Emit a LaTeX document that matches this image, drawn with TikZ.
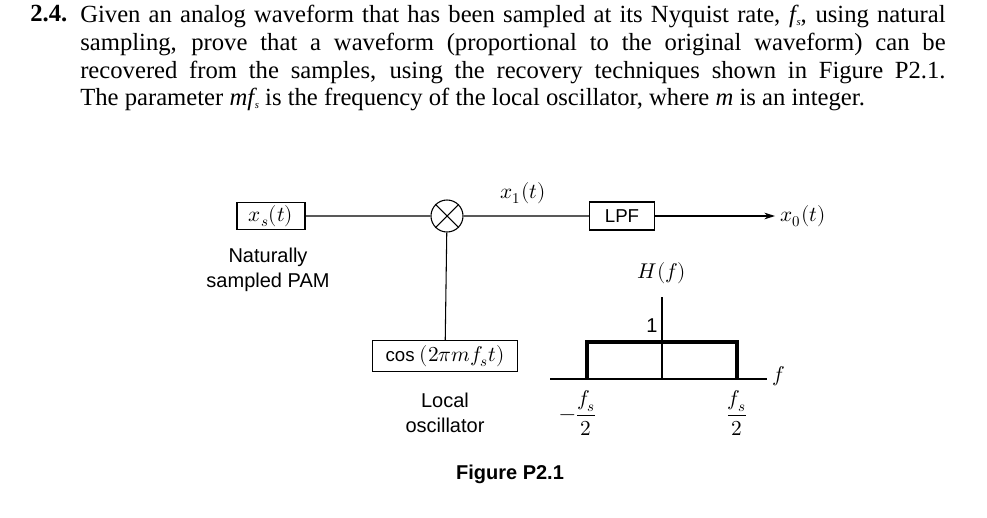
\documentclass[tikz,border=0pt]{standalone}
\usepackage{fontspec}
\setmainfont{Liberation Serif}
\newfontfamily\dsans{Liberation Sans}
\usepackage{unicode-math}
\setmathfont{Latin Modern Math}
\usetikzlibrary{arrows.meta}
\newcommand{\fsub}{\textit{f\kern0.5pt\raisebox{-2pt}{\footnotesize s}}}
\begin{document}
\begin{tikzpicture}[x=0.75pt,y=-0.75pt,
  box/.style={draw,line width=0.8pt,inner sep=0pt,font=\dsans\fontsize{14}{16}\selectfont},
  lbl/.style={font=\dsans\fontsize{15}{18}\selectfont,align=center},
  mth/.style={font=\fontsize{16}{18}\selectfont},
  ln/.style={line width=0.8pt},
  para/.style={anchor=north west,font=\fontsize{18.5}{20.8}\selectfont,inner sep=0pt,align=left}]
\useasboundingbox (0,0) rectangle (987,517);
\node[para] (num) at (30,5) {\textbf{2.4.}};
\node[para] (txt) at (80,5) {\makebox[649pt][s]{Given an analog waveform that has been sampled at its Nyquist rate, \fsub, using natural}\\
\makebox[649pt][s]{sampling, prove that a waveform (proportional to the original waveform) can be}\\
\makebox[649pt][s]{recovered from the samples, using the recovery techniques shown in Figure P2.1.}\\
The parameter \textit{m}\fsub{} is the frequency of the local oscillator, where \textit{m} is an integer.};
\node[box,mth,minimum width=51pt,minimum height=20pt] (xs) at (271,216) {$x_s(t)$};
\node[draw,circle,line width=0.8pt,minimum size=24pt,inner sep=0pt] (mul) at (447,216) {};
\draw[line width=0.8pt] (mul.45)--(mul.225) (mul.135)--(mul.315);
\node[box,minimum width=49pt,minimum height=21pt] (lpf) at (622,216) {LPF};
\coordinate (out) at (775,216);
\node[mth,anchor=west] (xo) at (776,216) {$x_0(t)$};
\node[mth] (x1) at (523,193) {$x_1(t)$};
\node[box,minimum width=109pt,minimum height=23pt] (cos) at (445,356) {cos {\fontsize{16}{18}\selectfont$(2\pi m f_s t)$}};
\draw[ln] (xs)--(mul) (mul)--(lpf) (mul)--(cos);
\draw[ln,-{Stealth[length=8pt,width=5pt]}] (lpf)--(out);
\node[lbl] (nat) at (268,270) {Naturally\\[1pt]sampled PAM};
\node[lbl] (lo) at (445,413) {Local\\[1pt]oscillator};
\node[font=\fontsize{16}{18}\selectfont] (H) at (662,273) {$H(f)$};
\coordinate (a0) at (550,379); \coordinate (a1) at (767,379);
\coordinate (v0) at (662,297); \coordinate (v1) at (662,379);
\draw[ln] (a0)--(a1) (v0)--(v1);
\node[mth,anchor=west] (f) at (768,376) {$f$};
\coordinate (r1) at (587,379); \coordinate (r2) at (587,342);
\coordinate (r3) at (737,342); \coordinate (r4) at (737,379);
\draw[line width=2.6pt] (r1)--(r2)--(r3)--(r4);
\node[lbl] (one) at (652,326) {1};
\node[mth] (mfs) at (578,413) {$-\dfrac{f_s}{2}$};
\node[mth] (fs) at (737,413) {$\dfrac{f_s}{2}$};
\node[font=\dsans\bfseries\fontsize{15}{17}\selectfont] (cap) at (510,474) {Figure P2.1};
\end{tikzpicture}
\end{document}
